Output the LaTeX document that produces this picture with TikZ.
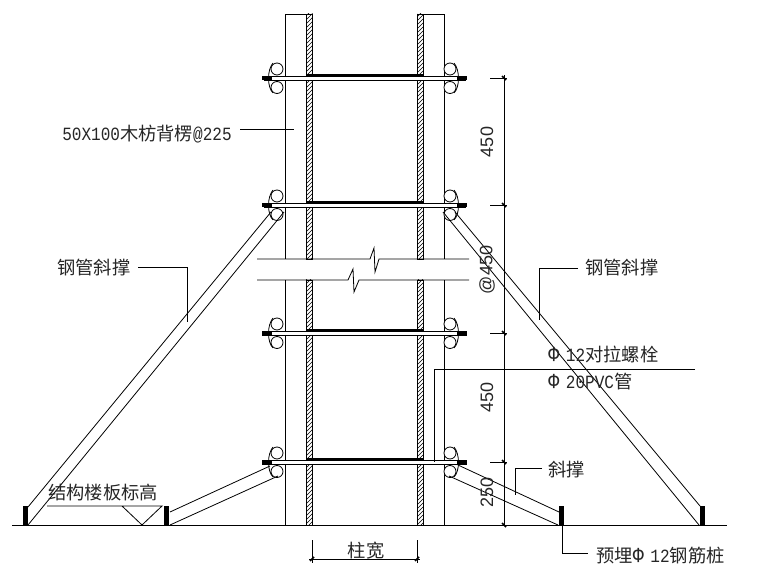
\documentclass[tikz,border=0pt]{standalone}
\usepackage{fontspec}
\setmainfont{Liberation Sans}
\newfontfamily\cjk{Noto Sans CJK SC}
\newfontfamily\latn[FakeStretch=0.86]{Liberation Mono}
\newcommand{\lat}[1]{{\fontsize{14pt}{15pt}\selectfont\latn #1}}
\newcommand{\rebar}{{\fontsize{16pt}{15pt}\selectfont\latn Φ\hspace{5pt}}}
\usetikzlibrary{patterns, arrows.meta, positioning}
\tikzset{
    line/.style = {draw, line width = 0.6pt},
    batten/.style = {draw, line width = 0.45pt, pattern = north east lines},
    stake/.style = {fill = black},
    label/.style = {inner sep = 0pt, font = \fontsize{13.7pt}{15pt}\selectfont\cjk, text = black!85},
    dim/.style = {inner sep = 0pt, rotate = 90, font = \fontsize{13.5pt}{15pt}\selectfont, text = black!85}
}
\begin{document}
\begin{tikzpicture} [x = 0.75pt, y = -0.75pt]
    \useasboundingbox (0,0) rectangle (760,570);

    % column
    \draw[line] (285,525) -- (285,280) (285,259) -- (285,14) -- (312,14);
    \draw[line] (444,525) -- (444,280) (444,259) -- (444,14) -- (417,14);
    \foreach \xa in {306, 417} {
        \path[batten] (\xa,14) rectangle ++(6.5,245);
        \path[batten] (\xa,280) rectangle ++(6.5,245);
    }

    % ground and break lines
    \draw[line] (12,525) -- (727,525);
    \draw[line] (257,259) -- (370,259) -- (374,248) -- (375,272) -- (379,259) -- (469,259);
    \draw[line] (257,280) -- (348,280) -- (353,269) -- (354,292) -- (359,280) -- (469,280);

    % ties and clips
    \foreach \ya in {78, 205, 333, 462} {
        \fill[white] (272,\ya-2) rectangle (457,\ya+3);
        \draw[line width = 1pt] (306,\ya-3) -- (423,\ya-3);
        \draw[line] (264,\ya-2) -- (466,\ya-2) (264,\ya+2.5) -- (466,\ya+2.5);
        \fill (262,\ya-2) rectangle (272,\ya+2.5);
        \fill (457,\ya-2) rectangle (467,\ya+2.5);
        \draw[line, fill = white] (277,\ya-9) circle (6) (277,\ya+9.5) circle (6);
        \draw[line, fill = white] (450,\ya-9) circle (6) (450,\ya+9.5) circle (6);
        \draw[line] (273,\ya-15) .. controls (267,\ya-8) and (267,\ya+9) .. (273,\ya+15);
        \draw[line] (454,\ya-15) .. controls (460,\ya-8) and (460,\ya+9) .. (454,\ya+15);
    }

    % braces
    \draw[line] (28,507) -- (271,212) (28,525) -- (284,212);
    \draw[line] (700,506) -- (455,212) (699,525) -- (443,212);
    \draw[line] (170,512) -- (270,466) (170,525) -- (278,476);
    \draw[line] (458,465) -- (559,512) (449,476) -- (558,525);
    \foreach \xb in {23, 164, 559, 700} {
        \fill[stake] (\xb,506) rectangle ++(5,19);
    }

    % floor level
    \draw[line] (47,506) -- (162,506) -- (142,525) -- (122,506);
    \node (floor) [label] at (103,493) {结构楼板标高};

    % dimensions
    \draw[line] (504,75) -- (504,525);
    \foreach \yb in {78, 205, 333, 462, 525} {
        \draw[line] (490,\yb) -- (507,\yb);
        \draw[line width = 1.2pt] (502,\yb-2) -- (506,\yb+2);
    }
    \node (d1) [dim] at (487,142) {450};
    \node (d2) [dim] at (487,270) {@450};
    \node (d3) [dim] at (487,397) {450};
    \node (d4) [dim] at (487,492) {250};

    % column width
    \draw[line] (312,540) -- (312,563) (417,540) -- (417,563) (309,559) -- (420,559);
    \draw[line width = 1.2pt] (310,561) -- (314,557) (415,561) -- (419,557);
    \node (width) [label] at (366,551) {柱宽};

    % leaders
    \node (wood) [label, anchor = west] at (62,134) {\lat{50X100}木枋背楞\lat{@225}};
    \coordinate (woodend) at (294,129);
    \draw[line] (240,129) -- (woodend);

    \node (bl) [label, anchor = west] at (57,268) {钢管斜撑};
    \draw[line] (138,267) -- (187,267) -- (187,322);
    \node (br) [label, anchor = west] at (585,268) {钢管斜撑};
    \draw[line] (578,268) -- (539,268) -- (539,320);

    \node (bolt) [label, anchor = west] at (548,354) {\rebar\lat{12}对拉螺栓};
    \node (pvc) [label, anchor = west] at (548,382) {\rebar\lat{20PVC}管};
    \draw[line] (695,369) -- (434,369) -- (434,462);

    \node (short) [label, anchor = west] at (548,470) {斜撑};
    \draw[line] (542,468) -- (515,468) -- (515,495);

    \node (pile) [label, anchor = west] at (596,556) {预埋\rebar\lat{12}钢筋桩};
    \draw[line] (562,525) -- (562,553) -- (588,553);
\end{tikzpicture}
\end{document}
